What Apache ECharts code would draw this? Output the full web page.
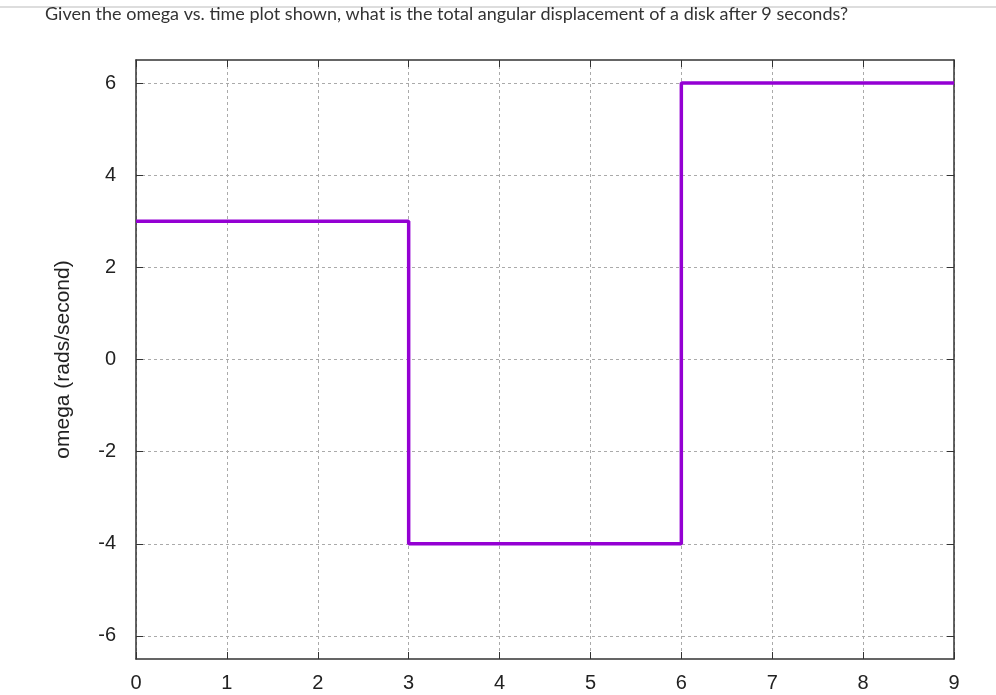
<!DOCTYPE html>
<html>
<head>
<meta charset="utf-8">
<script src="https://cdn.jsdelivr.net/npm/echarts@6/dist/echarts.min.js"></script>
<style>
  body { margin: 0; background: #fff; }
  #main { width: 996px; height: 695px; }
</style>
</head>
<body>
<div id="main"></div>
<script>
  // 数据
  var timeVals = [0, 3, 6, 9];
  var omegaVals = [3, -4, 6, 6];
  var yTicks = [-6, -4, -2, 0, 2, 4, 6];
  var xTicks = [0, 1, 2, 3, 4, 5, 6, 7, 8, 9];

  var myChart = echarts.init(document.getElementById('main'));
  var pts = timeVals.map(function (t, i) { return [t, omegaVals[i]]; });

  var axisTxt = { color: '#222', fontSize: 20, fontFamily: 'Liberation Sans' };
  var frame = { show: true, onZero: false, lineStyle: { color: '#333', width: 1.5 } };
  var grid = { show: true, lineStyle: { color: '#aaa', type: [3, 3], width: 1 } };
  var tick = { show: true, inside: true, length: 7, lineStyle: { color: '#333' } };

  var option = {
    backgroundColor: '#fff',
    animation: false,
    title: {
      text: 'Given the omega vs. time plot shown, what is the total angular displacement of a disk after 9 seconds?',
      left: 40, top: 0,
      textStyle: { fontSize: 18, fontWeight: 'normal', color: '#333', fontFamily: 'Lato' }
    },
    graphic: [{ type: 'line', shape: { x1: 0, y1: 7, x2: 996, y2: 7 }, style: { stroke: '#bbb', lineWidth: 1 } }],
    grid: { left: 136, right: 42, top: 60, bottom: 36 },
    xAxis: [{
      type: 'value', min: 0, max: 9, interval: 1,
      axisLine: frame, axisTick: tick,
      axisLabel: Object.assign({ margin: 14 }, axisTxt),
      splitLine: grid
    }, {
      type: 'value', position: 'top', min: 0, max: 9, interval: 1,
      axisLine: frame, axisTick: tick,
      axisLabel: { show: false }, splitLine: { show: false }
    }],
    yAxis: [{
      type: 'value', min: -6.5, max: 6.5,
      name: 'omega (rads/second)', nameLocation: 'middle', nameGap: 62,
      nameTextStyle: { fontSize: 21, color: '#222', fontFamily: 'Liberation Sans' },
      axisLine: frame,
      axisTick: Object.assign({ customValues: yTicks }, tick),
      axisLabel: Object.assign({ margin: 20, customValues: yTicks }, axisTxt),
      splitLine: grid
    }, {
      type: 'value', position: 'right', min: -6.5, max: 6.5,
      axisLine: frame,
      axisTick: Object.assign({ customValues: yTicks }, tick),
      axisLabel: { show: false }, splitLine: { show: false }
    }],
    series: [{
      type: 'line', step: 'end', data: pts, symbol: 'none',
      lineStyle: { color: '#9400d3', width: 3.5 }
    }]
  };
  myChart.setOption(option);
</script>
</body>
</html>
